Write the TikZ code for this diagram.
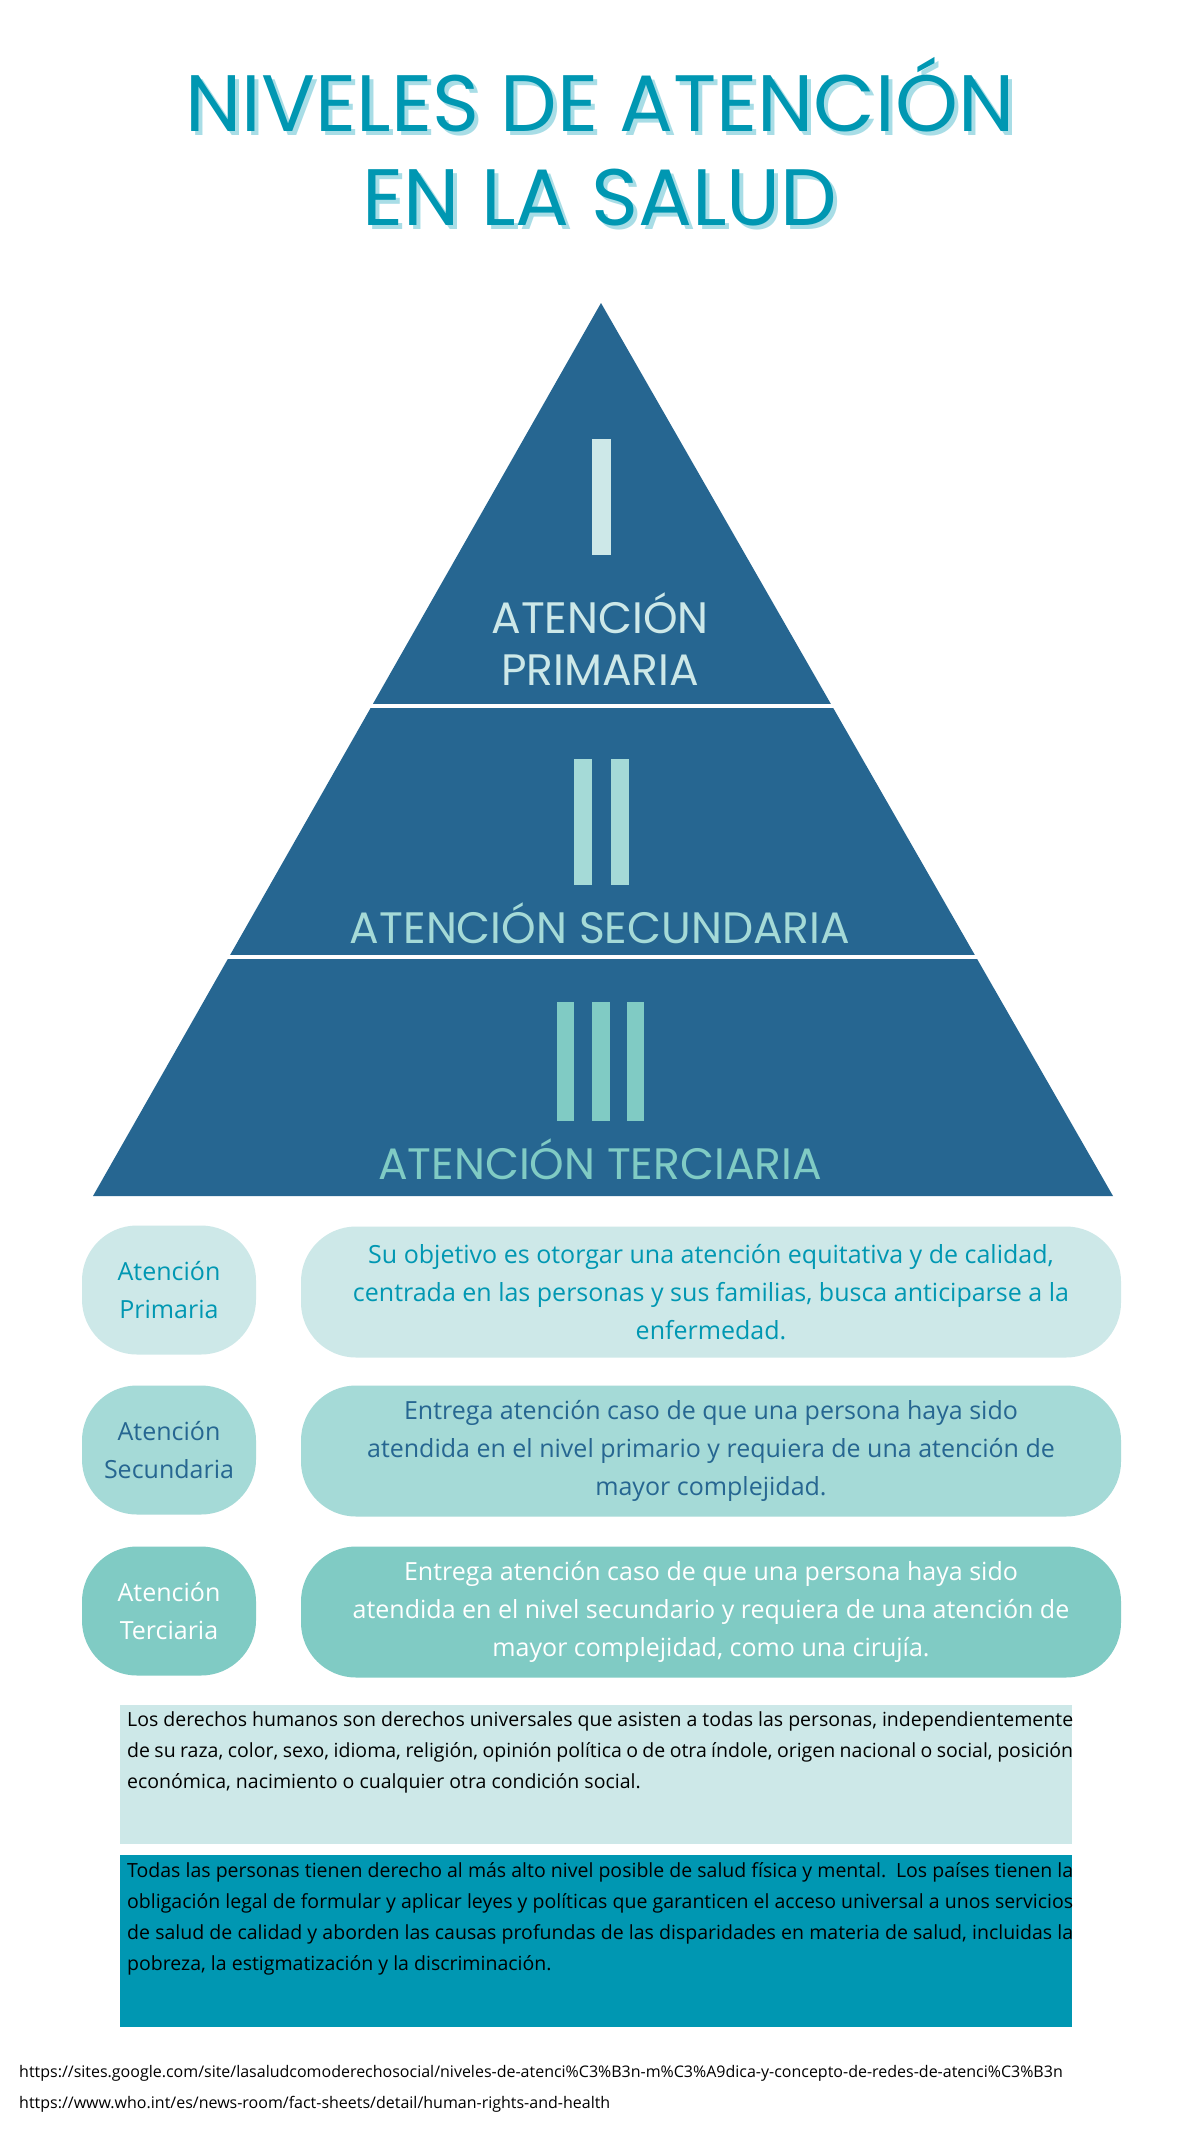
\documentclass[tikz,border=0pt]{standalone}
\usepackage{fontspec}
\setmainfont{Open Sans}
\newfontfamily\titlefont{Poppins}
\usepackage{ragged2e}
\definecolor{teal}{HTML}{0097B2}
\definecolor{tshadow}{HTML}{A8DDE6}
\definecolor{pyr}{HTML}{266691}
\definecolor{cA}{HTML}{CDE8E8}
\definecolor{cB}{HTML}{A5DAD7}
\definecolor{cC}{HTML}{80CBC4}
\begin{document}
\begin{tikzpicture}[x=1pt,y=-1pt,
  ttl/.style={font=\titlefont\fontsize{80}{80}\selectfont, text=teal, inner sep=0},
  ttlsh/.style={font=\titlefont\fontsize{80}{80}\selectfont, text=tshadow, inner sep=0},
  lvl/.style={font=\titlefont\fontsize{44}{52}\selectfont, inner sep=0, align=center},
  pill/.style={rounded corners=55pt, minimum width=174pt, minimum height=129pt, inner sep=0, align=center, font=\fontsize{25}{38}\selectfont},
  desc/.style={rounded corners=55pt, minimum width=820pt, minimum height=131pt, inner sep=0, align=center, font=\fontsize{25}{38}\selectfont},
  para/.style={anchor=north west, minimum width=952pt, inner sep=0, font=\fontsize{19.5}{31}\selectfont},
  url/.style={anchor=west, inner sep=0, font=\fontsize{16}{18}\selectfont}]
\useasboundingbox[fill=white] (0,0) rectangle (1200,2133);
% title
\node[ttlsh] (t1s) at (604,99) {NIVELES DE ATENCIÓN};
\node[ttl] (t1) at (600,95) {NIVELES DE ATENCIÓN};
\node[ttlsh] (t2s) at (604,202) {EN LA SALUD};
\node[ttl] (t2) at (600,198) {EN LA SALUD};
% pyramid
\fill[pyr] (601,303) -- (1113,1196) -- (93,1196) -- cycle;
\draw[white, line width=4pt] (300,706) -- (900,706);
\draw[white, line width=4pt] (150,957) -- (1050,957);
% numerals
\fill[cA] (592,439) rectangle (611,555);
\fill[cB] (574,759) rectangle (592,885);
\fill[cB] (611,759) rectangle (629,885);
\fill[cC] (557,1002) rectangle (574,1121);
\fill[cC] (592,1002) rectangle (610,1121);
\fill[cC] (627,1002) rectangle (644,1121);
\node[lvl, text=cA] (l1) at (600,639) {ATENCIÓN\\PRIMARIA};
\node[lvl, text=cB] (l2) at (600,923) {ATENCIÓN SECUNDARIA};
\node[lvl, text=cC] (l3) at (600,1159) {ATENCIÓN TERCIARIA};
% rows
\node[pill, fill=cA, text=teal] (p1) at (169,1290) {Atención\\Primaria};
\node[pill, fill=cB, text=pyr] (p2) at (169,1450) {Atención\\Secundaria};
\node[pill, fill=cC, text=white] (p3) at (169,1611) {Atención\\Terciaria};
\node[desc, fill=cA, text=teal] (d1) at (711,1292) {Su objetivo es otorgar una atención equitativa y de calidad,\\centrada en las personas y sus familias, busca anticiparse a la\\enfermedad.};
\node[desc, fill=cB, text=pyr] (d2) at (711,1451) {Entrega atención caso de que una persona haya sido\\atendida en el nivel primario y requiera de una atención de\\mayor complejidad.};
\node[desc, fill=cC, text=white] (d3) at (711,1612) {Entrega atención caso de que una persona haya sido\\atendida en el nivel secundario y requiera de una atención de\\mayor complejidad, como una cirujía.};
% paragraphs
\fill[cA] (120,1705) rectangle (1072,1844);
\node[para, text width=946pt] (q1) at (124,1711) {\justifying Los derechos humanos son derechos universales que asisten a todas las personas, independientemente de su raza, color, sexo, idioma, religión, opinión política o de otra índole, origen nacional o social, posición económica, nacimiento o cualquier otra condición social.\par};
\fill[teal] (120,1855) rectangle (1072,2027);
\node[para, text width=946pt] (q2) at (124,1862) {\justifying Todas las personas tienen derecho al más alto nivel posible de salud física y mental. Los países tienen la obligación legal de formular y aplicar leyes y políticas que garanticen el acceso universal a unos servicios de salud de calidad y aborden las causas profundas de las disparidades en materia de salud, incluidas la pobreza, la estigmatización y la discriminación.\par};
% urls
\node[url] (u1) at (19,2073) {https://sites.google.com/site/lasaludcomoderechosocial/niveles-de-atenci\%C3\%B3n-m\%C3\%A9dica-y-concepto-de-redes-de-atenci\%C3\%B3n};
\node[url] (u2) at (19,2104) {https://www.who.int/es/news-room/fact-sheets/detail/human-rights-and-health};
\end{tikzpicture}
\end{document}
